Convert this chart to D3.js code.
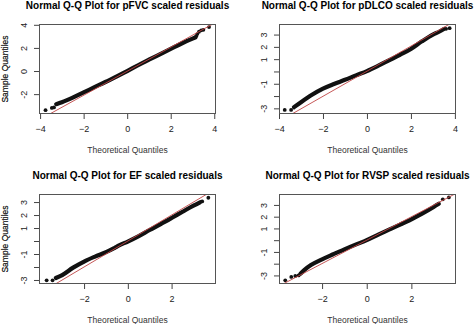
<!DOCTYPE html>
<html>
<head>
<meta charset="utf-8">
<script src="https://cdn.jsdelivr.net/npm/d3@7/dist/d3.min.js"></script>
<style>
  html, body { margin: 0; padding: 0; background: #fff; }
  svg { display: block; font-family: "Liberation Sans", Arial, Helvetica, sans-serif; }
</style>
</head>
<body>
<div id="chart"></div>
<script>
const titles = [
  'Normal Q-Q Plot for pFVC scaled residuals',
  'Normal Q-Q Plot for pDLCO scaled residuals',
  'Normal Q-Q Plot for EF scaled residuals',
  'Normal Q-Q Plot for RVSP scaled residuals'
];
const xLabel = 'Theoretical Quantiles';
const yLabel = 'Sample Quantiles';

// axis limits (usr coords) per panel
const xLimits = [[-4.05, 4.08], [-4.0, 4.05], [-4.06, 4.03], [-3.93, 4.0]];
const yLimits = [[-3.72, 4.07], [-3.46, 3.86], [-3.31, 3.62], [-3.73, 3.93]];

const xTicks = [[-4, -2, 0, 2, 4], [-4, -2, 0, 2, 4], [-2, 0, 2], [-2, 0, 2]];
const yTicks = [[-2, 0, 2, 4], [-3, -2, -1, 0, 1, 2, 3], [-3, -2, -1, 0, 1, 2, 3], [-3, -2, -1, 0, 1, 2, 3]];
// R drops labels that would overlap
const yTickLabels = [
  ['-2', '0', '2', '4'],
  ['-3', '', '-1', '', '1', '2', '3'],
  ['-3', '', '-1', '', '1', '2', '3'],
  ['-3', '', '-1', '', '1', '2', '3']
];

// dense part of each Q-Q cloud: [theoretical, sample]
const pfvcBand = [[-3.26, -2.87], [-3.0, -2.7], [-2.5, -2.3], [-2.0, -1.85], [-1.5, -1.4], [-1.0, -0.95],
  [-0.5, -0.48], [0, 0], [0.5, 0.5], [1.0, 0.98], [1.5, 1.45], [2.0, 1.92], [2.5, 2.38], [3.0, 2.8], [3.13, 2.9]];
const pfvcTail = [[-3.75, -3.39], [-3.46, -3.19], [-3.36, -3.15], [3.17, 3.02], [3.22, 3.2], [3.3, 3.4],
  [3.4, 3.52], [3.5, 3.57], [3.76, 3.8]];

const pdlcoBand = [[-3.32, -2.91], [-3.0, -2.5], [-2.5, -1.9], [-2.0, -1.4], [-1.5, -1.02], [-1.0, -0.68],
  [-0.5, -0.32], [0, 0.03], [0.5, 0.45], [1.0, 0.9], [1.5, 1.35], [2.0, 1.83], [2.5, 2.45], [3.0, 3.0],
  [3.3, 3.25], [3.5, 3.45]];
const pdlcoTail = [[-3.74, -3.13], [-3.45, -3.13], [3.6, 3.47], [3.76, 3.52]];

const efBand = [[-3.29, -2.85], [-3.0, -2.62], [-2.5, -2.05], [-2.0, -1.58], [-1.5, -1.2], [-1.0, -0.86],
  [-0.6, -0.52], [-0.4, -0.34], [0, -0.04], [0.5, 0.38], [1.0, 0.85], [1.5, 1.3], [2.0, 1.77], [2.5, 2.25],
  [3.0, 2.72], [3.3, 2.98]];
const efTail = [[-3.71, -3.03], [-3.44, -3.03], [3.4, 3.05], [3.68, 3.33]];

const rvspBand = [[-2.97, -2.85], [-2.8, -2.55], [-2.5, -2.12], [-2.0, -1.63], [-1.5, -1.2], [-1.0, -0.78],
  [-0.5, -0.38], [0, 0.0], [0.5, 0.45], [1.0, 0.9], [1.5, 1.33], [2.0, 1.78], [2.5, 2.28], [3.0, 2.83],
  [3.23, 3.1]];
const rvspTail = [[-3.65, -3.42], [-3.38, -3.13], [-3.2, -3.05], [-3.05, -3.0], [3.41, 3.48], [3.68, 3.64]];

const bands = [pfvcBand, pdlcoBand, efBand, rvspBand];
const tails = [pfvcTail, pdlcoTail, efTail, rvspTail];

// qqline: sample = intercept + slope * theoretical
const qqIntercepts = [-0.02, 0.02, 0.0, 0.0];
const qqSlopes = [1.04, 1.02, 1.0, 0.995];

const width = 474, height = 324;
const colLeft = [39, 279];
const rowTop = [24, 194];
const boxW = 177, boxH = 90;
const lineColor = '#c04545';

const svg = d3.select('#chart').append('svg')
  .attr('width', width)
  .attr('height', height);

titles.forEach((title, i) => {
  const left = colLeft[i % 2];
  const top = rowTop[Math.floor(i / 2)];

  const x = d3.scaleLinear().domain(xLimits[i]).range([0, boxW]);
  const y = d3.scaleLinear().domain(yLimits[i]).range([boxH, 0]);

  const g = svg.append('g').attr('transform', `translate(${left}, ${top})`);

  const clipId = 'clip-' + i;
  g.append('clipPath').attr('id', clipId)
    .append('rect').attr('width', boxW).attr('height', boxH);

  // title
  g.append('text')
    .attr('x', boxW / 2).attr('y', -15)
    .attr('text-anchor', 'middle')
    .attr('font-size', '10px')
    .attr('font-weight', 'bold')
    .attr('fill', '#000')
    .text(title);

  // x axis
  const xAxis = g.append('g')
    .attr('transform', `translate(0, ${boxH})`)
    .call(d3.axisBottom(x).tickValues(xTicks[i]).tickSize(5).tickFormat(d3.format('d')));
  xAxis.select('.domain').remove();
  xAxis.selectAll('line').attr('stroke', '#444');
  xAxis.selectAll('text')
    .attr('y', 15).attr('dy', '0.35em')
    .attr('font-size', '9px')
    .attr('fill', '#222')
    .attr('font-family', null);

  // y axis
  const yAxis = g.append('g')
    .call(d3.axisLeft(y).tickValues(yTicks[i]).tickSize(5)
      .tickFormat((d, j) => yTickLabels[i][j]));
  yAxis.select('.domain').remove();
  yAxis.selectAll('line').attr('stroke', '#444');
  yAxis.selectAll('text')
    .attr('x', null).attr('dy', '0.35em')
    .attr('transform', 'translate(-15, 0) rotate(-90)')
    .attr('text-anchor', 'middle')
    .attr('font-size', '9px')
    .attr('fill', '#222')
    .attr('font-family', null);

  // axis titles
  g.append('text')
    .attr('x', boxW / 2).attr('y', boxH + 36)
    .attr('dy', '0.35em')
    .attr('text-anchor', 'middle')
    .attr('font-size', '8.5px')
    .attr('fill', '#333')
    .text(xLabel);

  g.append('text')
    .attr('transform', `translate(${-left + 5}, ${boxH / 2}) rotate(-90)`)
    .attr('dy', '0.35em')
    .attr('text-anchor', 'middle')
    .attr('font-size', '8.5px')
    .attr('fill', '#333')
    .text(yLabel);

  // dense band of points
  const line = d3.line()
    .x(d => x(d[0]))
    .y(d => y(d[1]))
    .curve(d3.curveMonotoneX);

  g.append('path')
    .datum(bands[i])
    .attr('d', line)
    .attr('fill', 'none')
    .attr('stroke', '#111')
    .attr('stroke-width', 4.2)
    .attr('stroke-linecap', 'round')
    .attr('stroke-linejoin', 'round');

  g.selectAll('.tail')
    .data(tails[i])
    .enter().append('circle')
    .attr('class', 'tail')
    .attr('cx', d => x(d[0]))
    .attr('cy', d => y(d[1]))
    .attr('r', 1.9)
    .attr('fill', '#111');

  // qqline
  const xd = xLimits[i];
  g.append('line')
    .attr('clip-path', `url(#${clipId})`)
    .attr('x1', x(xd[0])).attr('y1', y(qqIntercepts[i] + qqSlopes[i] * xd[0]))
    .attr('x2', x(xd[1])).attr('y2', y(qqIntercepts[i] + qqSlopes[i] * xd[1]))
    .attr('stroke', lineColor)
    .attr('stroke-width', 0.9);

  // box
  g.append('rect')
    .attr('x', 0.5).attr('y', 0.5)
    .attr('width', boxW - 1).attr('height', boxH - 1)
    .attr('fill', 'none')
    .attr('stroke', '#555')
    .attr('stroke-width', 1);
});
</script>
</body>
</html>
